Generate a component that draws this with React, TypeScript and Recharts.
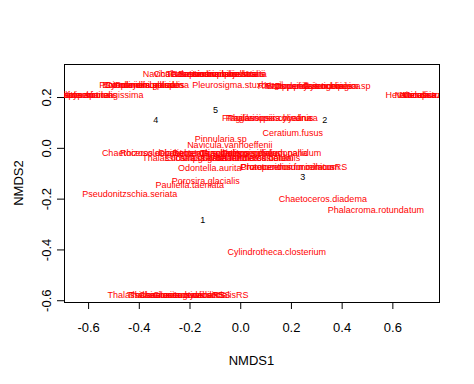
import React from 'react';
import { ScatterChart, Scatter, XAxis, YAxis, ReferenceArea } from 'recharts';

// species scores (NMDS1, NMDS2)
const speciesNames = [
  'Navicula.septentrionalis', 'Chaetoceros.compressus', 'Thalassiosira.bioculata', 'Coscinodiscus.centralis',
  'Entomoneis.kjellmanii', 'Licmophora.striata',
  'Protoperidinium.sp', 'Gyrodinium.spirale', 'Dinobryon.balticum', 'Entomoneis.paludosa', 'Polarella.glacialis',
  'Pleurosigma.stuxbergii',
  'Rhizosolenia.setigera', 'Protoperidinium.bipes', 'Scrippsiella.trochoidea', 'Dinophysis.norvegica', 'Gymnodinium.sp',
  'Heterocapsa.triquetra', 'Navicula.transitans', 'Nitzschia.frigida', 'Melosira.arctica', 'Ceratium.arcticum',
  'Nitzschia.longissima', 'Fragilaria.sp', 'Fossula.arctica', 'Attheya.septentrionalis', 'Synedropsis.hyperborea',
  'Fragilariopsis.oceanica', 'Fragilariopsis.cylindrus', 'Thalassiosira.hyalina',
  'Ceratium.fusus', 'Pinnularia.sp', 'Navicula.vanhoeffenii',
  'Chaetoceros.decipiens', 'Rhizosolenia.hebetata', 'Thalassiosira.gravida', 'Chaetoceros.socialis',
  'Eucampia.groenlandica', 'Bacterosira.bathyomphala', 'Thalassiosira.nordenskioeldii', 'Chaetoceros.gelidus',
  'Skeletonema.costatum', 'Chaetoceros.borealis', 'Fragilariopsis.pseudonana', 'Protoperidinium.pallidum',
  'Odontella.aurita', 'Protoperidinium.conicum', 'Prorocentrum.minimum', 'Chaetoceros.furcellatusRS',
  'Porosira.glacialis', 'Pauliella.taeniata', 'Pseudonitzschia.seriata', 'Chaetoceros.diadema',
  'Phalacroma.rotundatum', 'Cylindrotheca.closterium',
  'Thalassiosira.antarctica', 'Thalassiosira.gravidaRS', 'Thalassiosira.hyalinaRS', 'Chaetoceros.debilisRS',
  'Chaetoceros.socialisRS',
];
const speciesX = [
  -0.199, -0.142, -0.114, -0.091, -0.075, -0.043,
  -0.41, -0.391, -0.379, -0.375, -0.359,
  -0.012,
  0.237, 0.268, 0.28, 0.304, 0.379,
  0.742, 0.757, 0.752, 0.761, 0.785,
  -0.544, -0.675, -0.635, -0.667, -0.694,
  0.122, 0.107, 0.114,
  0.205, -0.079, -0.043,
  -0.367, -0.3, -0.221, -0.162,
  -0.114, -0.063, -0.036, -0.004,
  0.028, 0.067, 0.055, 0.122,
  -0.122, 0.193, 0.185, 0.209,
  -0.138, -0.201, -0.438, 0.324,
  0.533, 0.142,
  -0.339, -0.256, -0.249, -0.221,
  -0.158,
];
const speciesY = [
  0.293, 0.293, 0.293, 0.293, 0.293, 0.293,
  0.249, 0.249, 0.249, 0.249, 0.249,
  0.249,
  0.245, 0.245, 0.245, 0.245, 0.245,
  0.21, 0.21, 0.21, 0.21, 0.21,
  0.21, 0.21, 0.21, 0.21, 0.21,
  0.119, 0.119, 0.119,
  0.061, 0.037, 0.013,
  -0.019, -0.019, -0.038, -0.019,
  -0.038, -0.019, -0.038, -0.019,
  -0.038, -0.038, -0.019, -0.019,
  -0.078, -0.074, -0.074, -0.074,
  -0.129, -0.144, -0.18, -0.2,
  -0.243, -0.408,
  -0.578, -0.578, -0.578, -0.578,
  -0.578,
];

// site scores
const siteNames = ['1', '2', '3', '4', '5'];
const siteX = [-0.15, 0.331, 0.245, -0.335, -0.099];
const siteY = [-0.28, 0.111, -0.113, 0.111, 0.151];

const xTicks = [-0.6, -0.4, -0.2, 0, 0.2, 0.4, 0.6];
const yTicks = [-0.6, -0.4, -0.2, 0, 0.2];
const xDomain = [-0.697, 0.782];
const yDomain = [-0.605, 0.332];

const species = speciesNames.map((name, i) => ({ name, x: speciesX[i], y: speciesY[i] }));
const sites = siteNames.map((name, i) => ({ name, x: siteX[i], y: siteY[i] }));

const FONT = '"Liberation Sans", Arial, sans-serif';

const textShape = (color: string) => (props: any) => (
  <text
    x={props.cx}
    y={props.cy}
    dy="0.35em"
    textAnchor="middle"
    fontSize={9}
    fontFamily={FONT}
    fill={color}
  >
    {props.payload.name}
  </text>
);

const XTick = (props: any) => (
  <text x={props.x} y={props.y + 20.5} textAnchor="middle" fontSize={13} fontFamily={FONT} fill="#000">
    {props.payload.value.toFixed(1)}
  </text>
);

const YTick = (props: any) => (
  <text
    x={props.x - 4}
    y={props.y}
    transform={`rotate(-90, ${props.x - 4}, ${props.y})`}
    textAnchor="middle"
    fontSize={13}
    fontFamily={FONT}
    fill="#000"
  >
    {props.payload.value.toFixed(1)}
  </text>
);

const App = () => (
  <div style={{ position: 'absolute', left: 0, top: 0, background: '#fff' }}>
    <ScatterChart width={474} height={384} margin={{ top: 64, right: 35, bottom: 32, left: 0 }}>
      <XAxis
        type="number"
        dataKey="x"
        domain={xDomain}
        ticks={xTicks}
        allowDataOverflow
        axisLine={false}
        tickLine={{ stroke: '#000' }}
        tickSize={7}
        height={50}
        tick={<XTick />}
        label={{
          content: (p: any) => (
            <text
              x={p.viewBox.x + p.viewBox.width / 2}
              y={p.viewBox.y + 63}
              textAnchor="middle"
              fontSize={13}
              fontFamily={FONT}
              fill="#000"
            >
              NMDS1
            </text>
          ),
        }}
      />
      <YAxis
        type="number"
        dataKey="y"
        domain={yDomain}
        ticks={yTicks}
        allowDataOverflow
        axisLine={false}
        tickLine={{ stroke: '#000' }}
        tickSize={7}
        width={64}
        tick={<YTick />}
        label={{
          content: (p: any) => {
            const cy = p.viewBox.y + p.viewBox.height / 2;
            return (
              <text
                x={23}
                y={cy}
                transform={`rotate(-90, 23, ${cy})`}
                textAnchor="middle"
                fontSize={13}
                fontFamily={FONT}
                fill="#000"
              >
                NMDS2
              </text>
            );
          },
        }}
      />
      <Scatter data={species} shape={textShape('#ff0000')} isAnimationActive={false} />
      <Scatter data={sites} shape={textShape('#000000')} isAnimationActive={false} />
      <ReferenceArea
        x1={xDomain[0]}
        x2={xDomain[1]}
        y1={yDomain[0]}
        y2={yDomain[1]}
        fill="none"
        fillOpacity={0}
        stroke="#000"
        strokeOpacity={1}
        shapeRendering="crispEdges"
      />
    </ScatterChart>
  </div>
);

export default App;
